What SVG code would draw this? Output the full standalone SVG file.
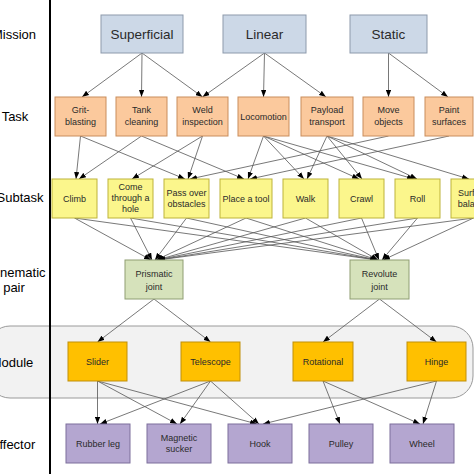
<svg xmlns="http://www.w3.org/2000/svg" width="474" height="474" viewBox="0 0 474 474">
<style>
text{font-family:"Liberation Sans",Arial,sans-serif;fill:#2a2a2a;text-anchor:middle}
.lab{font-size:13px;fill:#000}
.mi rect{fill:#ccd8e7;stroke:#8d9aab;stroke-width:1}
.ta rect{fill:#fbc99d;stroke:#c98d5c;stroke-width:1}
.su rect{fill:#fbf68c;stroke:#bdb33a;stroke-width:1}
.ki rect{fill:#d6e2bb;stroke:#8f9e72;stroke-width:1}
.mo rect{fill:#ffc000;stroke:#c08f0a;stroke-width:1}
.ef rect{fill:#b4a6d0;stroke:#7d6f9b;stroke-width:1}
.mi text{font-size:13.5px}
.n text{font-size:9px}
#edges path{fill:none;stroke:#555;stroke-width:0.8;marker-end:url(#ah)}
</style>
<defs>
<marker id="ah" viewBox="0 0 8 6" refX="8" refY="3" markerWidth="7" markerHeight="5.5" markerUnits="userSpaceOnUse" orient="auto">
<path d="M0,0 L8,3 L0,6 z" fill="#000"/>
</marker>
</defs>
<rect width="474" height="474" fill="#fff"/>
<rect x="-12" y="326" width="485" height="72" rx="22" fill="#f2f2f2" stroke="#9a9a9a" stroke-width="1"/>
<g id="labels">
<text class="lab" x="14" y="39">Mission</text>
<text class="lab" x="15" y="121">Task</text>
<text class="lab" x="20" y="202">Subtask</text>
<text class="lab" x="17" y="277">Kinematic</text>
<text class="lab" x="14" y="292">pair</text>
<text class="lab" x="12" y="367">Module</text>
<text class="lab" x="13" y="449">Effector</text>
</g>
<line x1="50" y1="0" x2="50" y2="474" stroke="#000" stroke-width="2"/>
<g id="edges">
<path d="M142,53 L82,97"/>
<path d="M142,53 L141.5,97"/>
<path d="M142,53 L202.5,97"/>
<path d="M264.5,53 L202.5,97"/>
<path d="M264.5,53 L263.5,97"/>
<path d="M264.5,53 L326,97"/>
<path d="M388.5,53 L388.5,97"/>
<path d="M388.5,53 L448,97"/>
<path d="M80.5,136 L76,179"/>
<path d="M80.5,136 L185,179"/>
<path d="M141.5,136 L79,179"/>
<path d="M141.5,136 L244,179"/>
<path d="M202.5,136 L132,179"/>
<path d="M202.5,136 L188,179"/>
<path d="M263.5,136 L248,179"/>
<path d="M263.5,136 L304,179"/>
<path d="M263.5,136 L359,179"/>
<path d="M263.5,136 L414,179"/>
<path d="M327,136 L307,179"/>
<path d="M327,136 L362,179"/>
<path d="M327,136 L417,179"/>
<path d="M327,136 L469,179"/>
<path d="M388.5,136 L190,179"/>
<path d="M449,136 L250,179"/>
<path d="M74.5,218 L151,260"/>
<path d="M130.5,218 L152,260"/>
<path d="M186.5,218 L155,260"/>
<path d="M246,218 L156,260"/>
<path d="M305.5,218 L157,260"/>
<path d="M361.5,218 L157,260"/>
<path d="M417.5,218 L158,260"/>
<path d="M473.5,218 L158,260"/>
<path d="M74.5,218 L377,260"/>
<path d="M130.5,218 L377,260"/>
<path d="M186.5,218 L377,260"/>
<path d="M246,218 L378,260"/>
<path d="M305.5,218 L378,260"/>
<path d="M361.5,218 L379,260"/>
<path d="M417.5,218 L382,260"/>
<path d="M473.5,218 L383,260"/>
<path d="M154,299 L97.5,342"/>
<path d="M154,299 L210.5,342"/>
<path d="M379.5,299 L323,342"/>
<path d="M379.5,299 L436.5,342"/>
<path d="M97.5,381 L97.5,424"/>
<path d="M97.5,381 L177,424"/>
<path d="M97.5,381 L257,424"/>
<path d="M210.5,381 L100,424"/>
<path d="M210.5,381 L180,424"/>
<path d="M210.5,381 L259,424"/>
<path d="M323,381 L340,424"/>
<path d="M323,381 L420,424"/>
<path d="M436.5,381 L423,424"/>
<path d="M436.5,381 L263,424"/>
</g>
<g id="n-superficial" class="mi"><rect x="101" y="15" width="82" height="38"/><text x="142" y="39">Superficial</text></g>
<g id="n-linear" class="mi"><rect x="223" y="15" width="83" height="38"/><text x="264.5" y="39">Linear</text></g>
<g id="n-static" class="mi"><rect x="350" y="15" width="77" height="38"/><text x="388.5" y="39">Static</text></g>
<g id="n-grit" class="n ta"><rect x="55" y="97" width="51" height="39"/><text x="80.5" y="113">Grit-</text><text x="80.5" y="125">blasting</text></g>
<g id="n-tank" class="n ta"><rect x="116" y="97" width="51" height="39"/><text x="141.5" y="113">Tank</text><text x="141.5" y="125">cleaning</text></g>
<g id="n-weld" class="n ta"><rect x="177" y="97" width="51" height="39"/><text x="202.5" y="113">Weld</text><text x="202.5" y="125">inspection</text></g>
<g id="n-loco" class="n ta"><rect x="238" y="97" width="51" height="39"/><text x="263.5" y="119.5">Locomotion</text></g>
<g id="n-payload" class="n ta"><rect x="301" y="97" width="52" height="39"/><text x="327" y="113">Payload</text><text x="327" y="125">transport</text></g>
<g id="n-move" class="n ta"><rect x="363" y="97" width="51" height="39"/><text x="388.5" y="113">Move</text><text x="388.5" y="125">objects</text></g>
<g id="n-paint" class="n ta"><rect x="425" y="97" width="48" height="39"/><text x="449" y="113">Paint</text><text x="449" y="125">surfaces</text></g>
<g id="n-climb" class="n su"><rect x="52" y="179" width="45" height="39"/><text x="74.5" y="201.5">Climb</text></g>
<g id="n-come" class="n su"><rect x="108" y="179" width="45" height="39"/><text x="130.5" y="190">Come</text><text x="130.5" y="201">through  a</text><text x="130.5" y="212">hole</text></g>
<g id="n-pass" class="n su"><rect x="164" y="179" width="45" height="39"/><text x="186.5" y="196">Pass over</text><text x="186.5" y="207">obstacles</text></g>
<g id="n-place" class="n su"><rect x="220" y="179" width="52" height="39"/><text x="246" y="201.5">Place a tool</text></g>
<g id="n-walk" class="n su"><rect x="283" y="179" width="45" height="39"/><text x="305.5" y="201.5">Walk</text></g>
<g id="n-crawl" class="n su"><rect x="339" y="179" width="45" height="39"/><text x="361.5" y="201.5">Crawl</text></g>
<g id="n-roll" class="n su"><rect x="395" y="179" width="45" height="39"/><text x="417.5" y="201.5">Roll</text></g>
<g id="n-surface" class="n su"><rect x="451" y="179" width="45" height="39"/><text x="473.5" y="196">Surface</text><text x="473.5" y="207">balance</text></g>
<g id="n-prismatic" class="n ki"><rect x="125" y="260" width="58" height="39"/><text x="154" y="277">Prismatic</text><text x="154" y="290">joint</text></g>
<g id="n-revolute" class="n ki"><rect x="350" y="260" width="59" height="39"/><text x="379.5" y="277">Revolute</text><text x="379.5" y="290">joint</text></g>
<g id="n-slider" class="n mo"><rect x="68" y="342" width="59" height="39"/><text x="97.5" y="364.5">Slider</text></g>
<g id="n-telescope" class="n mo"><rect x="181" y="342" width="59" height="39"/><text x="210.5" y="364.5">Telescope</text></g>
<g id="n-rotational" class="n mo"><rect x="293" y="342" width="60" height="39"/><text x="323" y="364.5">Rotational</text></g>
<g id="n-hinge" class="n mo"><rect x="407" y="342" width="59" height="39"/><text x="436.5" y="364.5">Hinge</text></g>
<g id="n-rubber" class="n ef"><rect x="66" y="424" width="64" height="39"/><text x="98" y="446.5">Rubber leg</text></g>
<g id="n-magnetic" class="n ef"><rect x="147" y="424" width="64" height="39"/><text x="179" y="441">Magnetic</text><text x="179" y="452">sucker</text></g>
<g id="n-hook" class="n ef"><rect x="228" y="424" width="64" height="39"/><text x="260" y="446.5">Hook</text></g>
<g id="n-pulley" class="n ef"><rect x="309" y="424" width="64" height="39"/><text x="341" y="446.5">Pulley</text></g>
<g id="n-wheel" class="n ef"><rect x="390" y="424" width="64" height="39"/><text x="422" y="446.5">Wheel</text></g>
</svg>
